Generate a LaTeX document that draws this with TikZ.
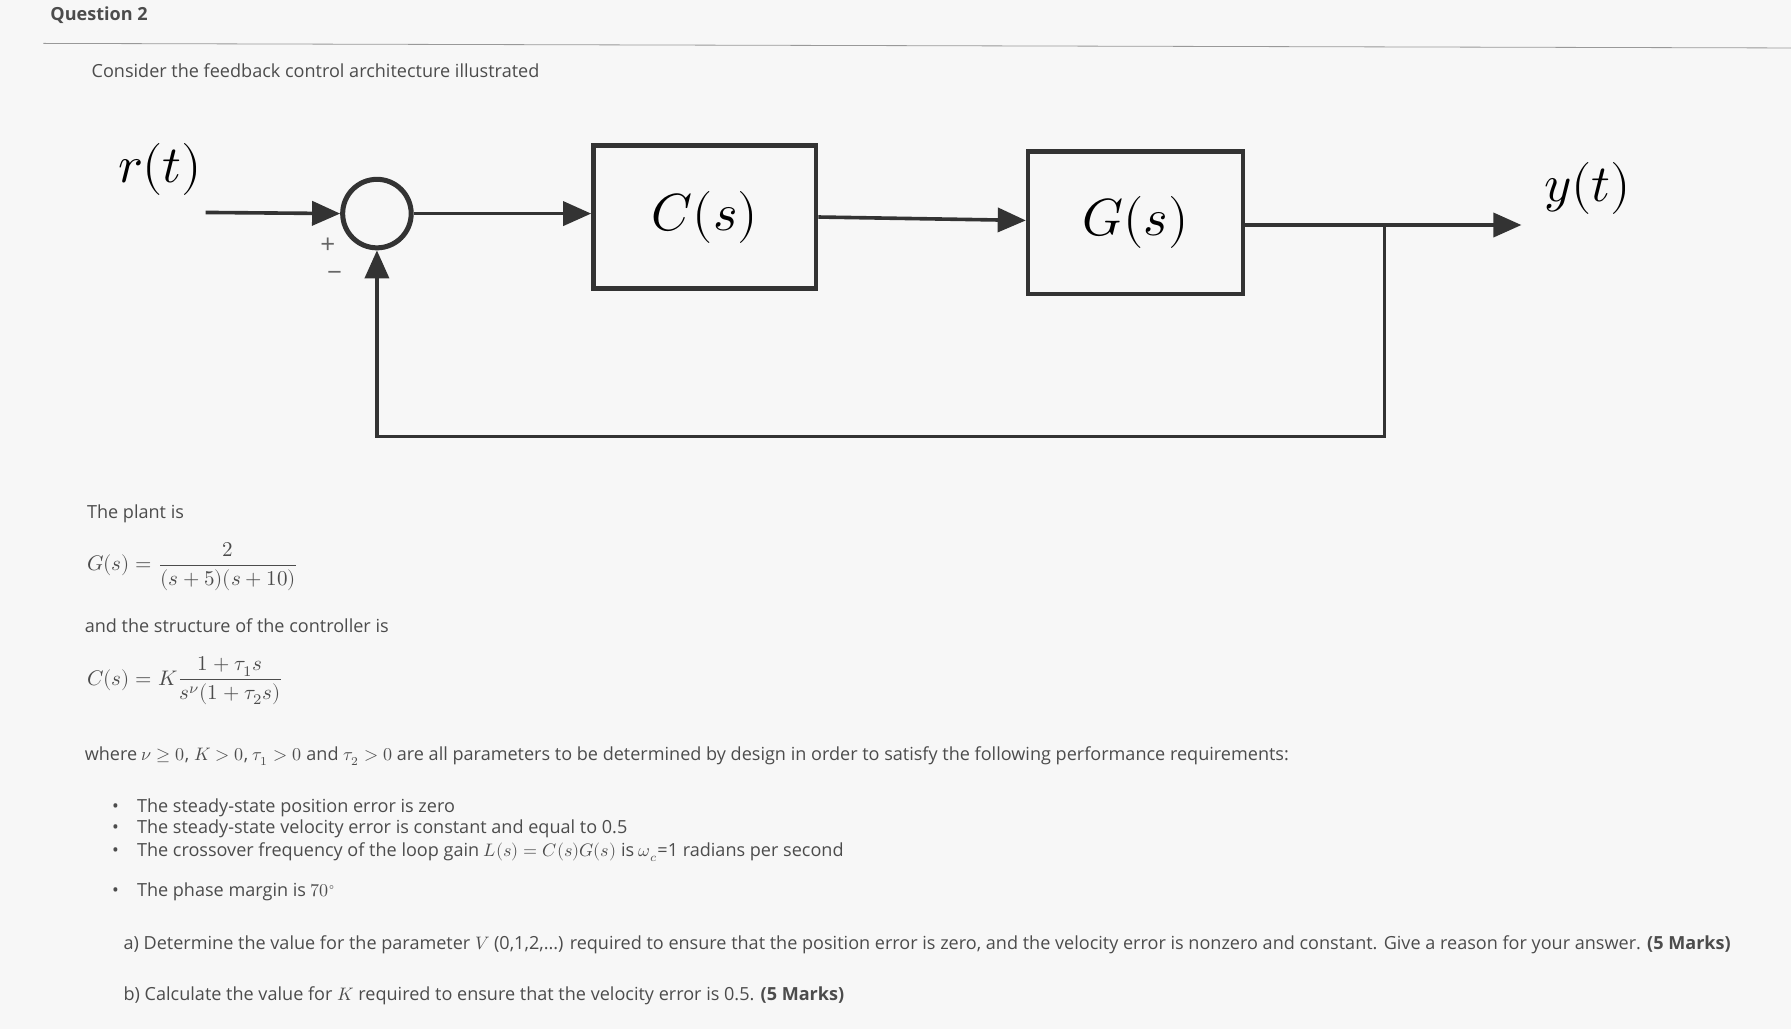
\documentclass[tikz,border=0pt]{standalone}
\usepackage{fontspec}
\setmainfont{Open Sans}
\usepackage{unicode-math}
\usetikzlibrary{arrows.meta}
\begin{document}
\begin{tikzpicture}[x=0.02cm,y=-0.02cm,
  blk/.style={draw=black!80,line width=2.2pt,minimum width=3.9cm,minimum height=2.5cm,font=\fontsize{26}{26}\selectfont},
  sig/.style={line width=1.8pt,draw=black!80},
  arr/.style={sig,-{Triangle[length=14pt,width=12pt]}},
  txt/.style={anchor=west,text=black!70,font=\fontsize{9}{11}\selectfont},
  big/.style={font=\fontsize{26}{26}\selectfont}]
\fill[black!3] (0,0) rectangle (1568,901);
\useasboundingbox (0,0) rectangle (1568,901);
\node[anchor=west,font=\bfseries\fontsize{9}{11}\selectfont,text=black!70] (q) at (38,13) {Question 2};
\draw[black!40] (38,38) -- (1568,42);
\node[txt] (c1) at (74,62) {Consider the feedback control architecture illustrated};
\node[big] (r) at (140,148) {$r(t)$};
\node[big] (y) at (1390,165) {$y(t)$};
\coordinate (rin) at (180,186);
\node[draw=black!80,line width=2.5pt,circle,minimum size=1.2cm,inner sep=0] (sum) at (330,187) {};
\node[font=\fontsize{13}{13}\selectfont,text=black!60] (plus) at (287,215) {+};
\node[font=\fontsize{13}{13}\selectfont,text=black!60] (minus) at (293,242) {−};
\node[blk] (C) at (617,190) {$C(s)$};
\node[blk,minimum height=2.5cm,minimum width=3.76cm] (G) at (994,195) {$G(s)$};
\coordinate (yout) at (1332,197);
\coordinate (br) at (1212,197);
\coordinate (b1) at (1212,382);
\coordinate (b2) at (330,382);
\draw[arr] (rin) -- (sum.west);
\draw[arr] (sum.east) -- (sum.east -| C.west);
\draw[arr] (C.east |- 0,190) -- (G.west |- 0,193);
\draw[arr] (G.east |- 0,197) -- (yout);
\draw[arr] (br) -- (b1) -- (b2) -- (sum.south);
\node[txt] (t1) at (70,450) {The plant is};
\node[txt,font=\fontsize{10.5}{12}\selectfont] (t2) at (70,496) {$G(s)=\dfrac{2}{(s+5)(s+10)}$};
\node[txt] (t3) at (68,548) {and the structure of the controller is};
\node[txt,font=\fontsize{10.5}{12}\selectfont] (t4) at (70,596) {$C(s)=K\dfrac{1+\tau_1 s}{s^{\nu}(1+\tau_2 s)}$};
\node[txt] (t5) at (68,662) {where $\nu\geq 0$, $K>0$, $\tau_1>0$ and $\tau_2>0$ are all parameters to be determined by design in order to satisfy the following performance requirements:};
\begin{scope}[every node/.style={txt,font=\fontsize{9}{10}\selectfont}]
\node (l1) at (92,707) {•\quad The steady-state position error is zero};
\node (l2) at (92,726) {•\quad The steady-state velocity error is constant and equal to 0.5};
\node (l3) at (92,746) {•\quad The crossover frequency of the loop gain $L(s)=C(s)G(s)$ is $\omega_c$=1 radians per second};
\node (l4) at (92,781) {•\quad The phase margin is $70^{\circ}$};
\node (a) at (102,827) {a) Determine the value for the parameter $V$ (0,1,2,...) required to ensure that the position error is zero, and the velocity error is nonzero and constant. Give a reason for your answer. \textbf{(5 Marks)}};
\node (b) at (102,872) {b) Calculate the value for $K$ required to ensure that the velocity error is 0.5. \textbf{(5 Marks)}};
\end{scope}
\end{tikzpicture}
\end{document}
